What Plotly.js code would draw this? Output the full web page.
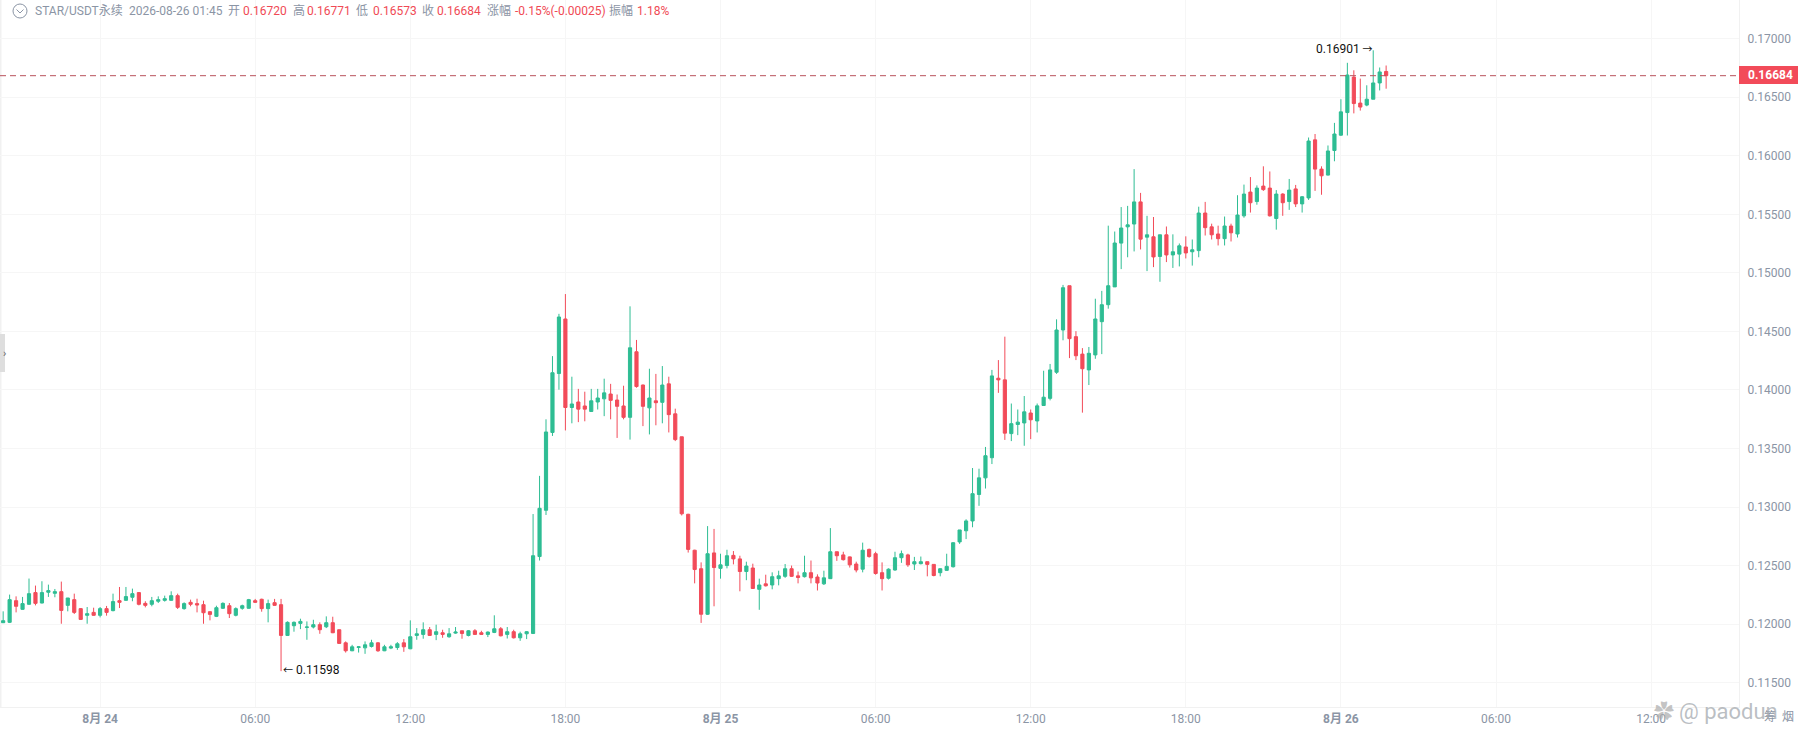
<!DOCTYPE html>
<html>
<head>
<meta charset="utf-8">
<script src="https://cdn.plot.ly/plotly-3.0.1.min.js"></script>
<style>html,body{margin:0;padding:0;background:#fff;overflow:hidden}#chart{width:1803px;height:734px}</style>
</head>
<body>
<div id="chart"></div>
<script>
const firstCandle = '2026-08-23T20:15:00';
const open = [
0.12012,0.12015,0.12200,0.12126,0.12169,0.12269,0.12180,0.12272,0.12263,0.12277,
0.12160,0.12209,0.12132,0.12075,0.12100,0.12075,0.12132,0.12115,0.12200,0.12203,
0.12229,0.12269,0.12177,0.12169,0.12195,0.12203,0.12203,0.12243,0.12132,0.12186,
0.12175,0.12166,0.12106,0.12066,0.12135,0.12157,0.12075,0.12135,0.12135,0.12200,
0.12212,0.12132,0.12183,0.12166,0.11903,0.11986,0.12006,0.11972,0.11975,0.11995,
0.11977,0.12012,0.11952,0.11840,0.11772,0.11800,0.11797,0.11809,0.11840,0.11772,
0.11795,0.11800,0.11840,0.11789,0.11903,0.11912,0.11952,0.11912,0.11926,0.11892,
0.11923,0.11943,0.11903,0.11943,0.11926,0.11912,0.11929,0.11960,0.11912,0.11935,
0.11883,0.11917,0.11920,
0.12577,0.12972,0.13637,0.14140,0.14606,0.13850,0.13897,0.13863,0.13816,0.13897,
0.13924,0.13965,0.13914,0.13863,0.13766,0.14326,0.14042,0.13847,0.13907,0.13894,
0.14052,0.13796,0.13600,0.12938,0.12631,0.12473,0.12084,0.12608,0.12476,0.12500,
0.12587,0.12557,0.12449,0.12479,0.12297,0.12344,0.12334,0.12388,0.12408,0.12473,
0.12412,0.12405,0.12439,0.12402,0.12344,0.12388,0.12618,0.12591,0.12574,0.12513,
0.12469,0.12638,0.12601,0.12439,0.12392,0.12462,0.12567,0.12591,0.12513,0.12516,
0.12533,0.12510,0.12439,0.12459,0.12490,0.12702,0.12797,0.12881,0.13107,0.13249,
0.13421,0.14100,0.14086,0.13627,0.13705,0.13718,0.13803,0.13735,0.13867,0.13928,
0.14151,0.14512,0.14890,0.14455,0.14306,0.14171,0.14299,0.14583,0.14728,0.14880,
0.15254,0.15393,0.15417,0.15606,0.15305,0.15308,0.15140,0.15325,0.15153,0.15160,
0.15221,0.15180,0.15190,0.15511,0.15393,0.15332,0.15292,0.15400,0.15332,0.15487,
0.15690,0.15609,0.15741,0.15724,0.15464,0.15673,0.15609,0.15717,0.15589,0.15640,
0.16136,0.15886,0.15835,0.16045,0.16176,0.16369,0.16672,0.16450,0.16433,0.16483,
0.16622,0.16720];
const high = [
0.12109,0.12252,0.12237,0.12232,0.12389,0.12329,0.12366,0.12337,0.12300,0.12363,
0.12223,0.12260,0.12137,0.12146,0.12140,0.12146,0.12155,0.12260,0.12317,0.12317,
0.12303,0.12272,0.12195,0.12232,0.12237,0.12243,0.12280,0.12260,0.12186,0.12209,
0.12217,0.12200,0.12109,0.12157,0.12186,0.12180,0.12143,0.12166,0.12215,0.12215,
0.12217,0.12209,0.12215,0.12215,0.12023,0.12023,0.12046,0.12023,0.12037,0.12015,
0.12066,0.12063,0.11952,0.11852,0.11823,0.11812,0.11852,0.11866,0.11846,0.11823,
0.11823,0.11846,0.11872,0.12032,0.11966,0.12015,0.11975,0.11995,0.11952,0.11966,
0.11975,0.11943,0.11949,0.11957,0.11943,0.11937,0.12075,0.11975,0.11975,0.11952,
0.11935,0.11940,0.12940,
0.13266,0.13749,0.14289,0.14650,0.14819,0.14113,0.14009,0.13985,0.14009,0.14009,
0.14096,0.14052,0.13961,0.14036,0.14714,0.14427,0.14046,0.14181,0.14137,0.14204,
0.14113,0.13840,0.13600,0.12942,0.12635,0.12527,0.12837,0.12813,0.12601,0.12635,
0.12624,0.12584,0.12533,0.12516,0.12388,0.12422,0.12442,0.12456,0.12513,0.12500,
0.12449,0.12584,0.12543,0.12425,0.12456,0.12820,0.12618,0.12618,0.12577,0.12533,
0.12696,0.12645,0.12618,0.12527,0.12476,0.12618,0.12628,0.12601,0.12574,0.12577,
0.12533,0.12510,0.12476,0.12601,0.12699,0.12804,0.12895,0.13333,0.13327,0.13513,
0.14171,0.14255,0.14455,0.13884,0.13833,0.13948,0.13833,0.13884,0.14164,0.14222,
0.14603,0.14897,0.14890,0.14502,0.14357,0.14367,0.14779,0.14846,0.15403,0.15353,
0.15562,0.15572,0.15886,0.15683,0.15487,0.15477,0.15325,0.15396,0.15329,0.15251,
0.15312,0.15285,0.15565,0.15606,0.15420,0.15403,0.15481,0.15420,0.15663,0.15754,
0.15818,0.15747,0.15910,0.15866,0.15707,0.15680,0.15802,0.15751,0.15656,0.16156,
0.16186,0.15910,0.16088,0.16281,0.16483,0.16794,0.16730,0.16659,0.16602,0.16901,
0.16754,0.16771];
const low = [
0.12009,0.12009,0.12100,0.12123,0.12166,0.12160,0.12177,0.12232,0.12229,0.12003,
0.12109,0.12086,0.12037,0.12003,0.12072,0.12057,0.12072,0.12109,0.12137,0.12200,
0.12195,0.12160,0.12143,0.12152,0.12180,0.12192,0.12200,0.12129,0.12123,0.12152,
0.12100,0.12003,0.12032,0.12060,0.12129,0.12052,0.12066,0.12123,0.12132,0.12180,
0.12106,0.12015,0.12157,0.11598,0.11900,0.11935,0.11957,0.11866,0.11963,0.11917,
0.11966,0.11923,0.11832,0.11757,0.11769,0.11757,0.11746,0.11800,0.11763,0.11769,
0.11786,0.11780,0.11763,0.11786,0.11866,0.11875,0.11900,0.11863,0.11883,0.11883,
0.11917,0.11875,0.11895,0.11909,0.11909,0.11889,0.11923,0.11895,0.11877,0.11877,
0.11857,0.11872,0.11915,
0.12543,0.12932,0.13607,0.14002,0.13654,0.13715,0.13725,0.13732,0.13813,0.13833,
0.13776,0.13749,0.13590,0.13749,0.13576,0.14019,0.13691,0.13620,0.13698,0.13715,
0.13637,0.13563,0.12928,0.12611,0.12348,0.12010,0.12078,0.12152,0.12388,0.12476,
0.12510,0.12280,0.12375,0.12300,0.12122,0.12321,0.12297,0.12331,0.12395,0.12402,
0.12348,0.12398,0.12348,0.12287,0.12334,0.12385,0.12540,0.12543,0.12483,0.12442,
0.12442,0.12567,0.12422,0.12287,0.12381,0.12456,0.12523,0.12489,0.12462,0.12510,
0.12408,0.12408,0.12408,0.12456,0.12483,0.12685,0.12726,0.12827,0.13010,0.13158,
0.13367,0.13975,0.13573,0.13563,0.13614,0.13523,0.13580,0.13637,0.13867,0.13911,
0.14137,0.14424,0.14272,0.14255,0.13806,0.14042,0.14266,0.14306,0.14694,0.14880,
0.15032,0.15133,0.15183,0.15200,0.15015,0.15049,0.14924,0.15092,0.15042,0.15055,
0.15123,0.15062,0.15133,0.15319,0.15285,0.15234,0.15234,0.15268,0.15302,0.15471,
0.15515,0.15582,0.15700,0.15481,0.15369,0.15487,0.15538,0.15562,0.15515,0.15623,
0.15700,0.15667,0.15832,0.15953,0.16170,0.16173,0.16362,0.16386,0.16423,0.16483,
0.16558,0.16573];
const close = [
0.12029,0.12209,0.12152,0.12175,0.12260,0.12177,0.12269,0.12286,0.12277,0.12117,
0.12223,0.12100,0.12040,0.12089,0.12075,0.12132,0.12100,0.12192,0.12186,0.12235,
0.12260,0.12169,0.12160,0.12200,0.12209,0.12217,0.12243,0.12143,0.12175,0.12169,
0.12163,0.12097,0.12083,0.12140,0.12177,0.12089,0.12132,0.12157,0.12209,0.12186,
0.12132,0.12175,0.12160,0.11903,0.12015,0.12015,0.12023,0.11975,0.11995,0.11952,
0.12012,0.11926,0.11835,0.11772,0.11806,0.11806,0.11823,0.11840,0.11772,0.11806,
0.11806,0.11832,0.11806,0.11892,0.11917,0.11952,0.11903,0.11935,0.11912,0.11917,
0.11932,0.11920,0.11943,0.11912,0.11912,0.11932,0.11960,0.11900,0.11935,0.11883,
0.11917,0.11935,0.12584,
0.12989,0.13641,0.14147,0.14623,0.13850,0.13880,0.13836,0.13836,0.13907,0.13931,
0.13975,0.13911,0.13860,0.13766,0.14360,0.14029,0.13860,0.13931,0.13891,0.14042,
0.13789,0.13576,0.12942,0.12638,0.12466,0.12084,0.12601,0.12483,0.12506,0.12584,
0.12557,0.12449,0.12496,0.12304,0.12334,0.12327,0.12405,0.12412,0.12473,0.12408,
0.12398,0.12439,0.12395,0.12351,0.12395,0.12618,0.12584,0.12550,0.12506,0.12462,
0.12631,0.12577,0.12432,0.12388,0.12469,0.12567,0.12601,0.12506,0.12533,0.12533,
0.12510,0.12415,0.12473,0.12493,0.12695,0.12804,0.12881,0.13114,0.13249,0.13438,
0.14120,0.14086,0.13631,0.13712,0.13725,0.13813,0.13745,0.13864,0.13938,0.14171,
0.14512,0.14873,0.14438,0.14292,0.14181,0.14313,0.14606,0.14728,0.14890,0.15255,
0.15383,0.15410,0.15606,0.15288,0.15325,0.15136,0.15325,0.15153,0.15180,0.15231,
0.15170,0.15197,0.15511,0.15386,0.15325,0.15292,0.15400,0.15342,0.15494,0.15673,
0.15599,0.15724,0.15711,0.15487,0.15673,0.15599,0.15707,0.15589,0.15650,0.16126,
0.15886,0.15829,0.16041,0.16186,0.16375,0.16690,0.16446,0.16416,0.16483,0.16622,
0.16716,0.16684];
const xTickValues = ['2026-08-24 00:00','2026-08-24 06:00','2026-08-24 12:00','2026-08-24 18:00','2026-08-25 00:00','2026-08-25 06:00','2026-08-25 12:00','2026-08-25 18:00','2026-08-26 00:00','2026-08-26 06:00','2026-08-26 12:00'];
const xTickLabels = ['<b>8月 24</b>','06:00','12:00','18:00','<b>8月 25</b>','06:00','12:00','18:00','<b>8月 26</b>','06:00','12:00'];
const lastPrice = 0.16684, highPrice = 0.16901, lowPrice = 0.11598;
const headerItems = [
 ['STAR/USDT永续',32.5,'#8b95a5'],['2026-08-26 01:45',126.5,'#8b95a5'],
 ['开',225.5,'#8b95a5'],['0.16720',240.5,'#f04a55'],['高',290.5,'#8b95a5'],['0.16771',304.5,'#f04a55'],
 ['低',354,'#8b95a5'],['0.16573',370.5,'#f04a55'],['收',419.5,'#8b95a5'],['0.16684',434.5,'#f04a55'],
 ['涨幅',485,'#8b95a5'],['-0.15%(-0.00025)',513,'#f04a55'],['振幅',607,'#8b95a5'],['1.18%',635,'#f04a55']];

const base = new Date(firstCandle + 'Z').getTime();
const pad = n => String(n).padStart(2,'0');
const times = open.map((_, i) => {
  const d = new Date(base + i * 900000);
  return `${d.getUTCFullYear()}-${pad(d.getUTCMonth()+1)}-${pad(d.getUTCDate())} ${pad(d.getUTCHours())}:${pad(d.getUTCMinutes())}`;
});
const W = 1739, H = 707;
const px = v => v / W, py = v => 1 - v / H;
const font = 'Roboto, "Noto Sans CJK SC", sans-serif';
const green = '#2ebd93', red = '#b8505a', grey = '#8b95a5', gridc = '#f6f6f6';
const candleRed = '#f24b59';
const txt = (text, x, y, color, size, extra) => Object.assign({
  text, xref:'paper', yref:'paper', x:px(x), y:py(y), showarrow:false, xanchor:'left', yanchor:'middle',
  font:{family:font, size:size||12, color:color}
}, extra||{});
const annotations = headerItems.map(h => txt(h[0], h[1], 11, h[2]));
annotations.push(
 {text:'<span style="font-size:10px">←</span> 0.11598', xref:'x', yref:'y', x:times[43], y:lowPrice, showarrow:false, xanchor:'left', yanchor:'middle', xshift:0, yshift:1, font:{family:font,size:12,color:'#111'}},
 {text:'0.16901 <span style="font-size:10px">→</span>', xref:'x', yref:'y', x:times[212], y:highPrice, showarrow:false, xanchor:'right', yanchor:'middle', xshift:2, yshift:1, font:{family:font,size:12,color:'#111'}},
 txt('<b>0.16684</b>', 1746, 75, '#fff'),
 txt('筹  烟', 1762, 717, grey),
 txt('✿', 1652, 712, 'rgba(170,170,170,0.7)', 20),
 txt('@ paodun', 1677, 712, 'rgba(165,170,175,0.75)', 22),
 txt('›', 0.5, 353, '#666', 11)
);
const shapes = [
 {type:'line', xref:'paper', yref:'y', x0:0, x1:1, y0:lastPrice, y1:lastPrice, line:{color:red, width:1, dash:'6px,4px'}},
 {type:'rect', xref:'paper', yref:'paper', x0:px(1739), x1:px(1798), y0:py(66), y1:py(84), fillcolor:candleRed, line:{width:0}},
 {type:'rect', xref:'paper', yref:'paper', x0:0, x1:px(1.5), y0:0, y1:1, fillcolor:'#f1f1f1', line:{width:0}, layer:'below'},
 {type:'rect', xref:'paper', yref:'paper', x0:0, x1:px(5), y0:py(372), y1:py(334), fillcolor:'#dedede', line:{width:0}},
 {type:'circle', xref:'paper', yref:'paper', x0:px(13), x1:px(27), y0:py(18), y1:py(4), line:{color:grey, width:1}},
 {type:'path', xref:'paper', yref:'paper', path:`M ${px(16.5)} ${py(9.5)} L ${px(20)} ${py(13)} L ${px(23.5)} ${py(9.5)}`, line:{color:grey, width:1}}
];
const trace = {
  type:'candlestick', x:times, open, high, low, close,
  increasing:{line:{color:green, width:1}, fillcolor:green},
  decreasing:{line:{color:candleRed, width:1}, fillcolor:candleRed},
  whiskerwidth:0, hoverinfo:'skip', showlegend:false
};
const layout = {
  width:1803, height:734, autosize:false,
  margin:{l:0, r:64, t:0, b:27, pad:0},
  paper_bgcolor:'#fff', plot_bgcolor:'#fff',
  showlegend:false, dragmode:false, hovermode:false,
  boxgap:0.3,
  xaxis:{type:'date', range:['2026-08-23 20:07:40','2026-08-26 15:24:00'], tickmode:'array', tickvals:xTickValues, ticktext:xTickLabels,
    showgrid:true, gridcolor:gridc, gridwidth:1, zeroline:false, showline:true, linecolor:'#f1f1f1', linewidth:1,
    ticks:'', ticklabelstandoff:1, tickfont:{family:font,size:12,color:grey}, rangeslider:{visible:false}, fixedrange:true},
  yaxis:{side:'right', range:[0.112919,0.173305], tick0:0.12, dtick:0.005, tickformat:'.5f',
    showgrid:true, gridcolor:gridc, gridwidth:1, zeroline:false, showline:true, linecolor:'#f1f1f1', linewidth:1,
    ticks:'', ticklabelstandoff:5, tickfont:{family:font,size:12,color:grey}, fixedrange:true},
  annotations, shapes
};
Plotly.newPlot('chart',[trace],layout,{displayModeBar:false,responsive:false});
</script>
</body>
</html>
